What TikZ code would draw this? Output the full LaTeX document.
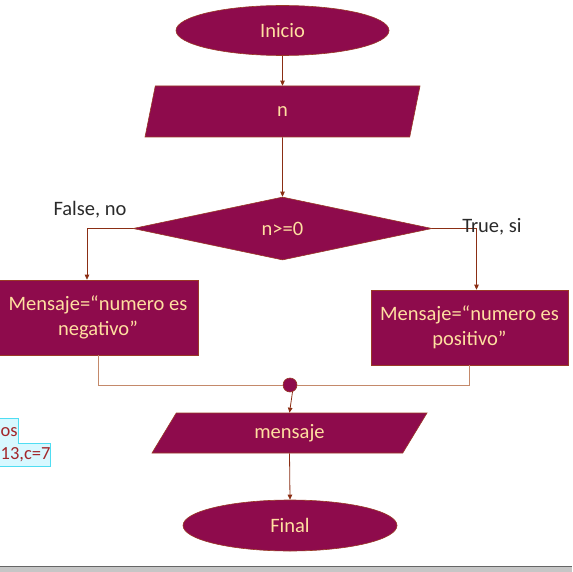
\documentclass[tikz,border=0pt]{standalone}
\usepackage{fontspec}
\setmainfont{Carlito}
\usetikzlibrary{shapes.geometric,arrows.meta}
\definecolor{shapefill}{HTML}{8E0B4C}
\definecolor{shapeedge}{HTML}{9A3A26}
\definecolor{shapetext}{HTML}{FFDFA0}
\definecolor{arrowc}{HTML}{8B2E14}
\definecolor{mergec}{HTML}{C4896A}
\definecolor{labelc}{HTML}{2A2A2A}
\definecolor{hlfill}{HTML}{D8F8FF}
\definecolor{hledge}{HTML}{4FDDF2}
\definecolor{hltext}{HTML}{A3262A}
\begin{document}
\begin{tikzpicture}[x=1pt,y=-1pt,
  base/.style={fill=shapefill,draw=shapeedge,line width=0.6pt,text=shapetext,
    font=\fontsize{20.5}{24.5}\selectfont,inner sep=0pt,align=center},
  term/.style={base,ellipse},
  iobox/.style={base,trapezium,trapezium stretches body=true},
  decis/.style={base,diamond},
  procbox/.style={base,rectangle},
  joinpt/.style={fill=shapefill,draw=shapeedge,line width=0.6pt,circle,minimum size=14pt,inner sep=0pt},
  flow/.style={draw=arrowc,line width=0.8pt,-{Triangle[length=5pt,width=4.5pt]}},
  mergeline/.style={draw=mergec,line width=0.9pt},
  lbl/.style={text=labelc,font=\fontsize{20.5}{24.5}\selectfont,inner sep=0pt},
  hltxt/.style={anchor=west,text=hltext,font=\fontsize{18.5}{22}\selectfont,inner sep=0pt}
]
\useasboundingbox (0,0) rectangle (572,572);
\begin{scope}
\clip (0,0) rectangle (572,572);
% bottom grey band
\fill[gray!45] (0,566) rectangle (572,572);
\draw[gray!80!black,line width=0.8pt] (0,566.5) -- (572,566.5);

% partial highlighted text at left
\draw[fill=hlfill,draw=hledge,line width=1pt] (-2,418) -- (18,418) -- (18,443) -- (50,443) -- (50,466) -- (-2,466) -- cycle;
\node[hltxt] (hla) at (0.5,432) {os};
\node[hltxt] (hlb) at (0.5,455) {13,c=7};

% nodes
\node[term,minimum width=213pt,minimum height=50pt] (inicio) at (282.5,30.5) {Inicio};
\node[iobox,trapezium left angle=44,trapezium right angle=136,minimum width=275pt,minimum height=51pt] (n) at (282.5,111.5) {n};
\node[decis,minimum width=299pt,minimum height=63pt] (dec) at (282.5,228.5) {n>=0};
\node[procbox,minimum width=200pt,minimum height=75pt] (neg) at (98,317.5) {Mensaje=“numero es\\negativo”};
\node[procbox,minimum width=197pt,minimum height=75pt] (pos) at (469.5,327.5) {Mensaje=“numero es\\positivo”};
\node[joinpt] (join) at (290,385) {};
\node[iobox,trapezium left angle=36,trapezium right angle=144,minimum width=275pt,minimum height=40pt] (msg) at (289.5,433) {mensaje};
\node[term,minimum width=214pt,minimum height=51pt] (fin) at (290,525.5) {Final};

% connectors
\draw[flow] (inicio.south) -- (n.north);
\draw[flow] (n.south) -- (dec.north);
\draw[flow] (dec.west) -| ([xshift=-11pt]neg.north);
\draw[flow] (dec.east) -| ([xshift=7pt]pos.north);
\draw[mergeline] (neg.south) |- (join.west);
\draw[mergeline] (pos.south) |- (join.east);
\draw[flow] (join.-70) -- (msg.north);
\draw[flow] (msg.south) -- (fin.north);

% branch labels
\node[lbl] (lfalse) at (90,210) {False, no};
\node[lbl] (ltrue) at (492,227) {True, si};
\end{scope}
\end{tikzpicture}
\end{document}
